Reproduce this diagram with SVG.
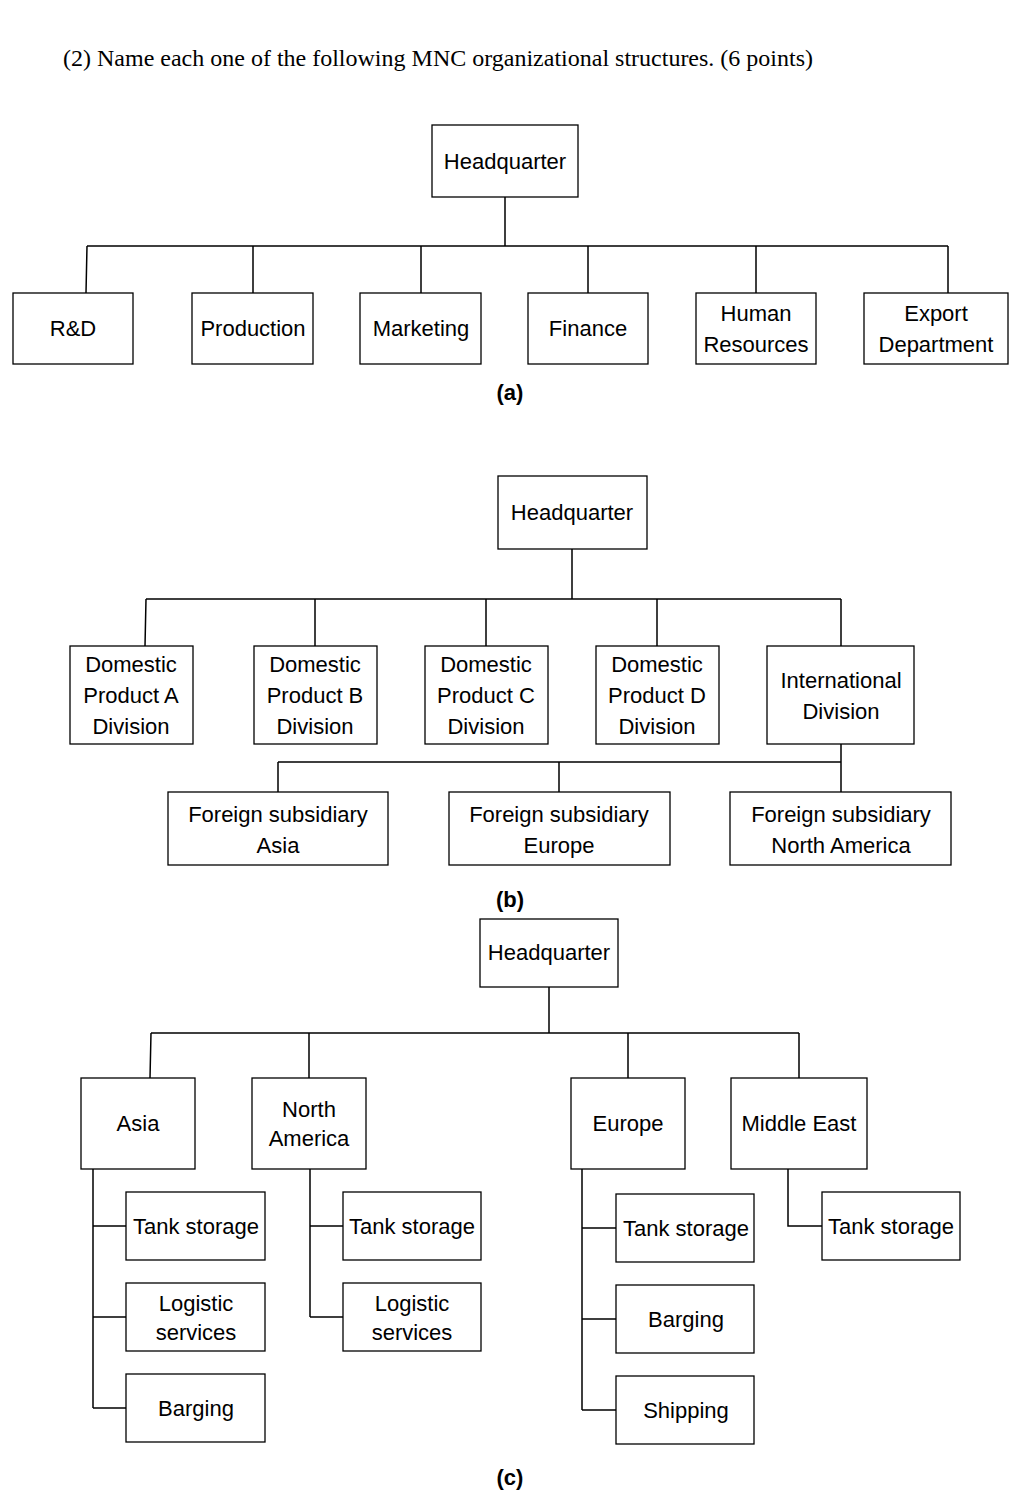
<svg xmlns="http://www.w3.org/2000/svg" width="1032" height="1505" viewBox="0 0 1032 1505">
<style>
rect{fill:#fff;stroke:#000;stroke-width:1.3}
.c line,.c path{stroke:#000;stroke-width:1.5;fill:none}
text{font-family:"Liberation Sans Narrow","Liberation Sans",Arial,sans-serif;font-size:22px;text-anchor:middle;fill:#000}
.t{font-family:"Liberation Serif","Times New Roman",serif;font-size:24px;text-anchor:start}
.lab{font-family:"Liberation Sans",Arial,sans-serif;font-weight:bold;font-size:22px}
</style>
<rect x="0" y="0" width="1032" height="1505" style="stroke:none"/>
<text class="t" x="63" y="66">(2) Name each one of the following MNC organizational structures. (6 points)</text>
<g class="c">
<path d="M505 197V246M87 246H948M87 246L86 293M253 246V293M421 246V293M588 246V293M756 246V293M948 246V293"/>
<path d="M572 549V599M146 599H841M146 599L145 646M315 599V646M486 599V646M657 599V646M841 599V646"/>
<path d="M841 744V762M278 762H841M278 762V792M559 762V792M841 762V792"/>
<path d="M549 987V1033M151 1033H799M151 1033L150 1078M309 1033V1078M628 1033V1078M799 1033V1078"/>
<path d="M93 1169V1408M93 1226H126M93 1317H126M93 1408H126"/>
<path d="M310 1169V1317M310 1226H343M310 1317H343"/>
<path d="M582 1169V1410M582 1228H616M582 1319H616M582 1410H616"/>
<path d="M788 1169V1226H822"/>
</g>
<g id="a-hq"><rect x="432" y="125" width="146" height="72"/><text x="505" y="169">Headquarter</text></g>
<g id="a-rd"><rect x="13" y="293" width="120" height="71"/><text x="73" y="336">R&amp;D</text></g>
<g id="a-prod"><rect x="192" y="293" width="121" height="71"/><text x="253" y="336">Production</text></g>
<g id="a-mkt"><rect x="360" y="293" width="121" height="71"/><text x="421" y="336">Marketing</text></g>
<g id="a-fin"><rect x="528" y="293" width="120" height="71"/><text x="588" y="336">Finance</text></g>
<g id="a-hr"><rect x="696" y="293" width="120" height="71"/><text x="756" y="321">Human</text><text x="756" y="352">Resources</text></g>
<g id="a-exp"><rect x="864" y="293" width="144" height="71"/><text x="936" y="321">Export</text><text x="936" y="352">Department</text></g>
<text class="lab" x="510" y="400">(a)</text>

<g id="b-hq"><rect x="498" y="476" width="149" height="73"/><text x="572" y="520">Headquarter</text></g>
<g id="b-a"><rect x="70" y="646" width="123" height="98"/><text x="131" y="672">Domestic</text><text x="131" y="703">Product A</text><text x="131" y="734">Division</text></g>
<g id="b-b"><rect x="254" y="646" width="123" height="98"/><text x="315" y="672">Domestic</text><text x="315" y="703">Product B</text><text x="315" y="734">Division</text></g>
<g id="b-c"><rect x="425" y="646" width="123" height="98"/><text x="486" y="672">Domestic</text><text x="486" y="703">Product C</text><text x="486" y="734">Division</text></g>
<g id="b-d"><rect x="596" y="646" width="123" height="98"/><text x="657" y="672">Domestic</text><text x="657" y="703">Product D</text><text x="657" y="734">Division</text></g>
<g id="b-int"><rect x="767" y="646" width="147" height="98"/><text x="841" y="688">International</text><text x="841" y="719">Division</text></g>
<g id="b-asia"><rect x="168" y="792" width="220" height="73"/><text x="278" y="822">Foreign subsidiary</text><text x="278" y="853">Asia</text></g>
<g id="b-eu"><rect x="449" y="792" width="221" height="73"/><text x="559" y="822">Foreign subsidiary</text><text x="559" y="853">Europe</text></g>
<g id="b-na"><rect x="730" y="792" width="221" height="73"/><text x="841" y="822">Foreign subsidiary</text><text x="841" y="853">North America</text></g>
<text class="lab" x="510" y="907">(b)</text>

<g id="c-hq"><rect x="480" y="919" width="138" height="68"/><text x="549" y="960">Headquarter</text></g>
<g id="c-asia"><rect x="81" y="1078" width="114" height="91"/><text x="138" y="1131">Asia</text></g>
<g id="c-na"><rect x="252" y="1078" width="114" height="91"/><text x="309" y="1117">North</text><text x="309" y="1146">America</text></g>
<g id="c-eu"><rect x="571" y="1078" width="114" height="91"/><text x="628" y="1131">Europe</text></g>
<g id="c-me"><rect x="731" y="1078" width="136" height="91"/><text x="799" y="1131">Middle East</text></g>
<g id="c-a1"><rect x="126" y="1192" width="139" height="68"/><text x="196" y="1234">Tank storage</text></g>
<g id="c-a2"><rect x="126" y="1283" width="139" height="68"/><text x="196" y="1311">Logistic</text><text x="196" y="1340">services</text></g>
<g id="c-a3"><rect x="126" y="1374" width="139" height="68"/><text x="196" y="1416">Barging</text></g>
<g id="c-n1"><rect x="343" y="1192" width="138" height="68"/><text x="412" y="1234">Tank storage</text></g>
<g id="c-n2"><rect x="343" y="1283" width="138" height="68"/><text x="412" y="1311">Logistic</text><text x="412" y="1340">services</text></g>
<g id="c-e1"><rect x="616" y="1194" width="138" height="68"/><text x="686" y="1236">Tank storage</text></g>
<g id="c-e2"><rect x="616" y="1285" width="138" height="68"/><text x="686" y="1327">Barging</text></g>
<g id="c-e3"><rect x="616" y="1376" width="138" height="68"/><text x="686" y="1418">Shipping</text></g>
<g id="c-m1"><rect x="822" y="1192" width="138" height="68"/><text x="891" y="1234">Tank storage</text></g>
<text class="lab" x="510" y="1485">(c)</text>
</svg>
